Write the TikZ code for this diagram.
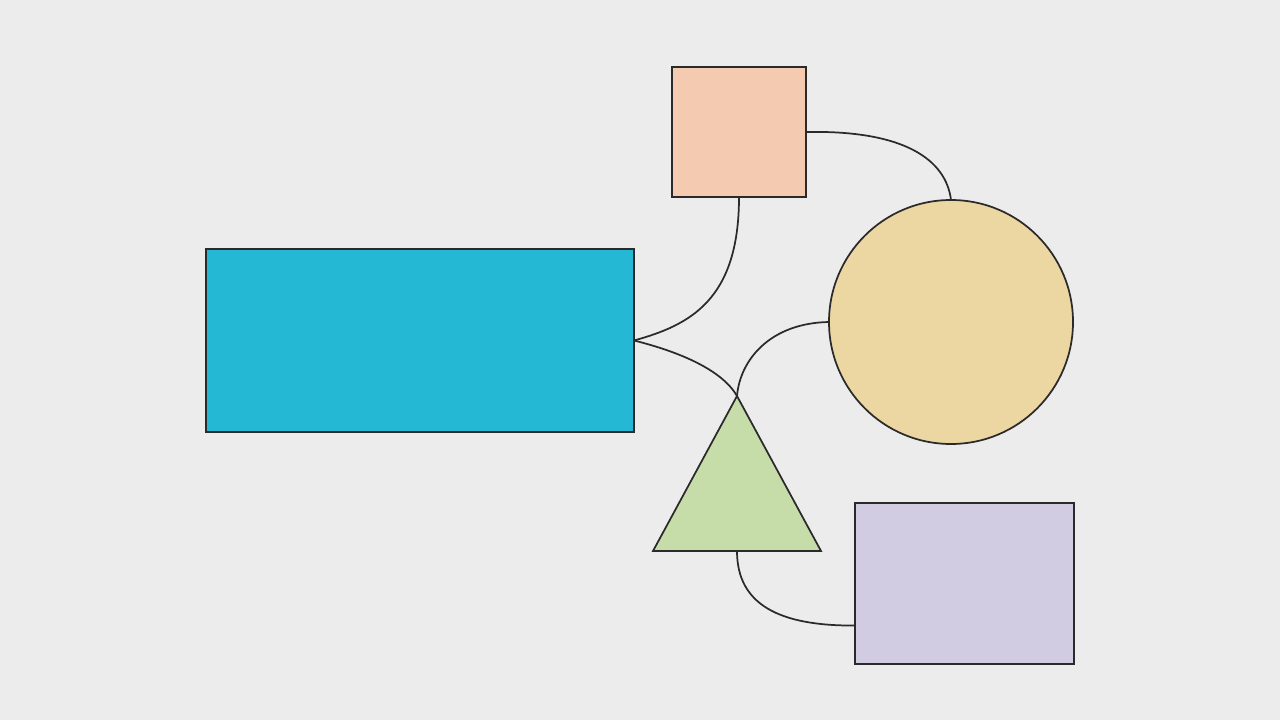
\documentclass[tikz,border=0pt]{standalone}
\usepackage{tikz}
\usepackage{xcolor}
\usetikzlibrary{positioning, shapes}

\definecolor{bgcol}{HTML}{ECECEC}
\definecolor{inkcol}{HTML}{2A2A2A}
\definecolor{bluecol}{HTML}{24B8D4}
\definecolor{peachcol}{HTML}{F4CBB1}
\definecolor{sandcol}{HTML}{ECD6A2}
\definecolor{leafcol}{HTML}{C7DDA9}
\definecolor{lilaccol}{HTML}{D1CCE1}

\tikzset{
    blob/.style={draw=inkcol, line width=1.3pt, inner sep=0pt, outer sep=0pt},
    wire/.style={draw=inkcol, line width=1.3pt}
}

\begin{document}
\begin{tikzpicture}[x=0.75pt, y=-0.75pt]
                    \fill[bgcol] (0, 0) rectangle (1280, 720);
                    \useasboundingbox (0, 0) rectangle (1280, 720);

                    \node[blob, rectangle, fill=bluecol, minimum width=321pt, minimum height=137.25pt] (bar) at (420, 340.5) {};
                    \node[blob, rectangle, fill=peachcol, minimum width=100.5pt, minimum height=97.5pt] (box) at (739, 132) {};
                    \node[blob, circle, fill=sandcol, minimum size=183pt] (disc) at (951, 322) {};
                    \node[blob, rectangle, fill=lilaccol, minimum width=164.25pt, minimum height=120.75pt] (slab) at (964.5, 583.5) {};

                    \coordinate (apex) at (737, 396);
                    \coordinate (base) at (737, 551);
                    \filldraw[blob, fill=leafcol, line join=miter] (apex) -- (821, 551) -- (653, 551) -- cycle;

                    \draw[wire] (box.south) .. controls (739, 300) and (690, 325) .. (bar.east);
                    \draw[wire] (box.east) .. controls (905, 130) and (946, 160) .. (disc.north);
                    \draw[wire] (bar.east) .. controls (680, 352) and (722, 370) .. (apex);
                    \draw[wire] (disc.west) .. controls (770, 323) and (740, 360) .. (apex);
                    \draw[wire] (base) .. controls (737, 605) and (780, 626) .. (slab.201);
                \end{tikzpicture}
\end{document}
